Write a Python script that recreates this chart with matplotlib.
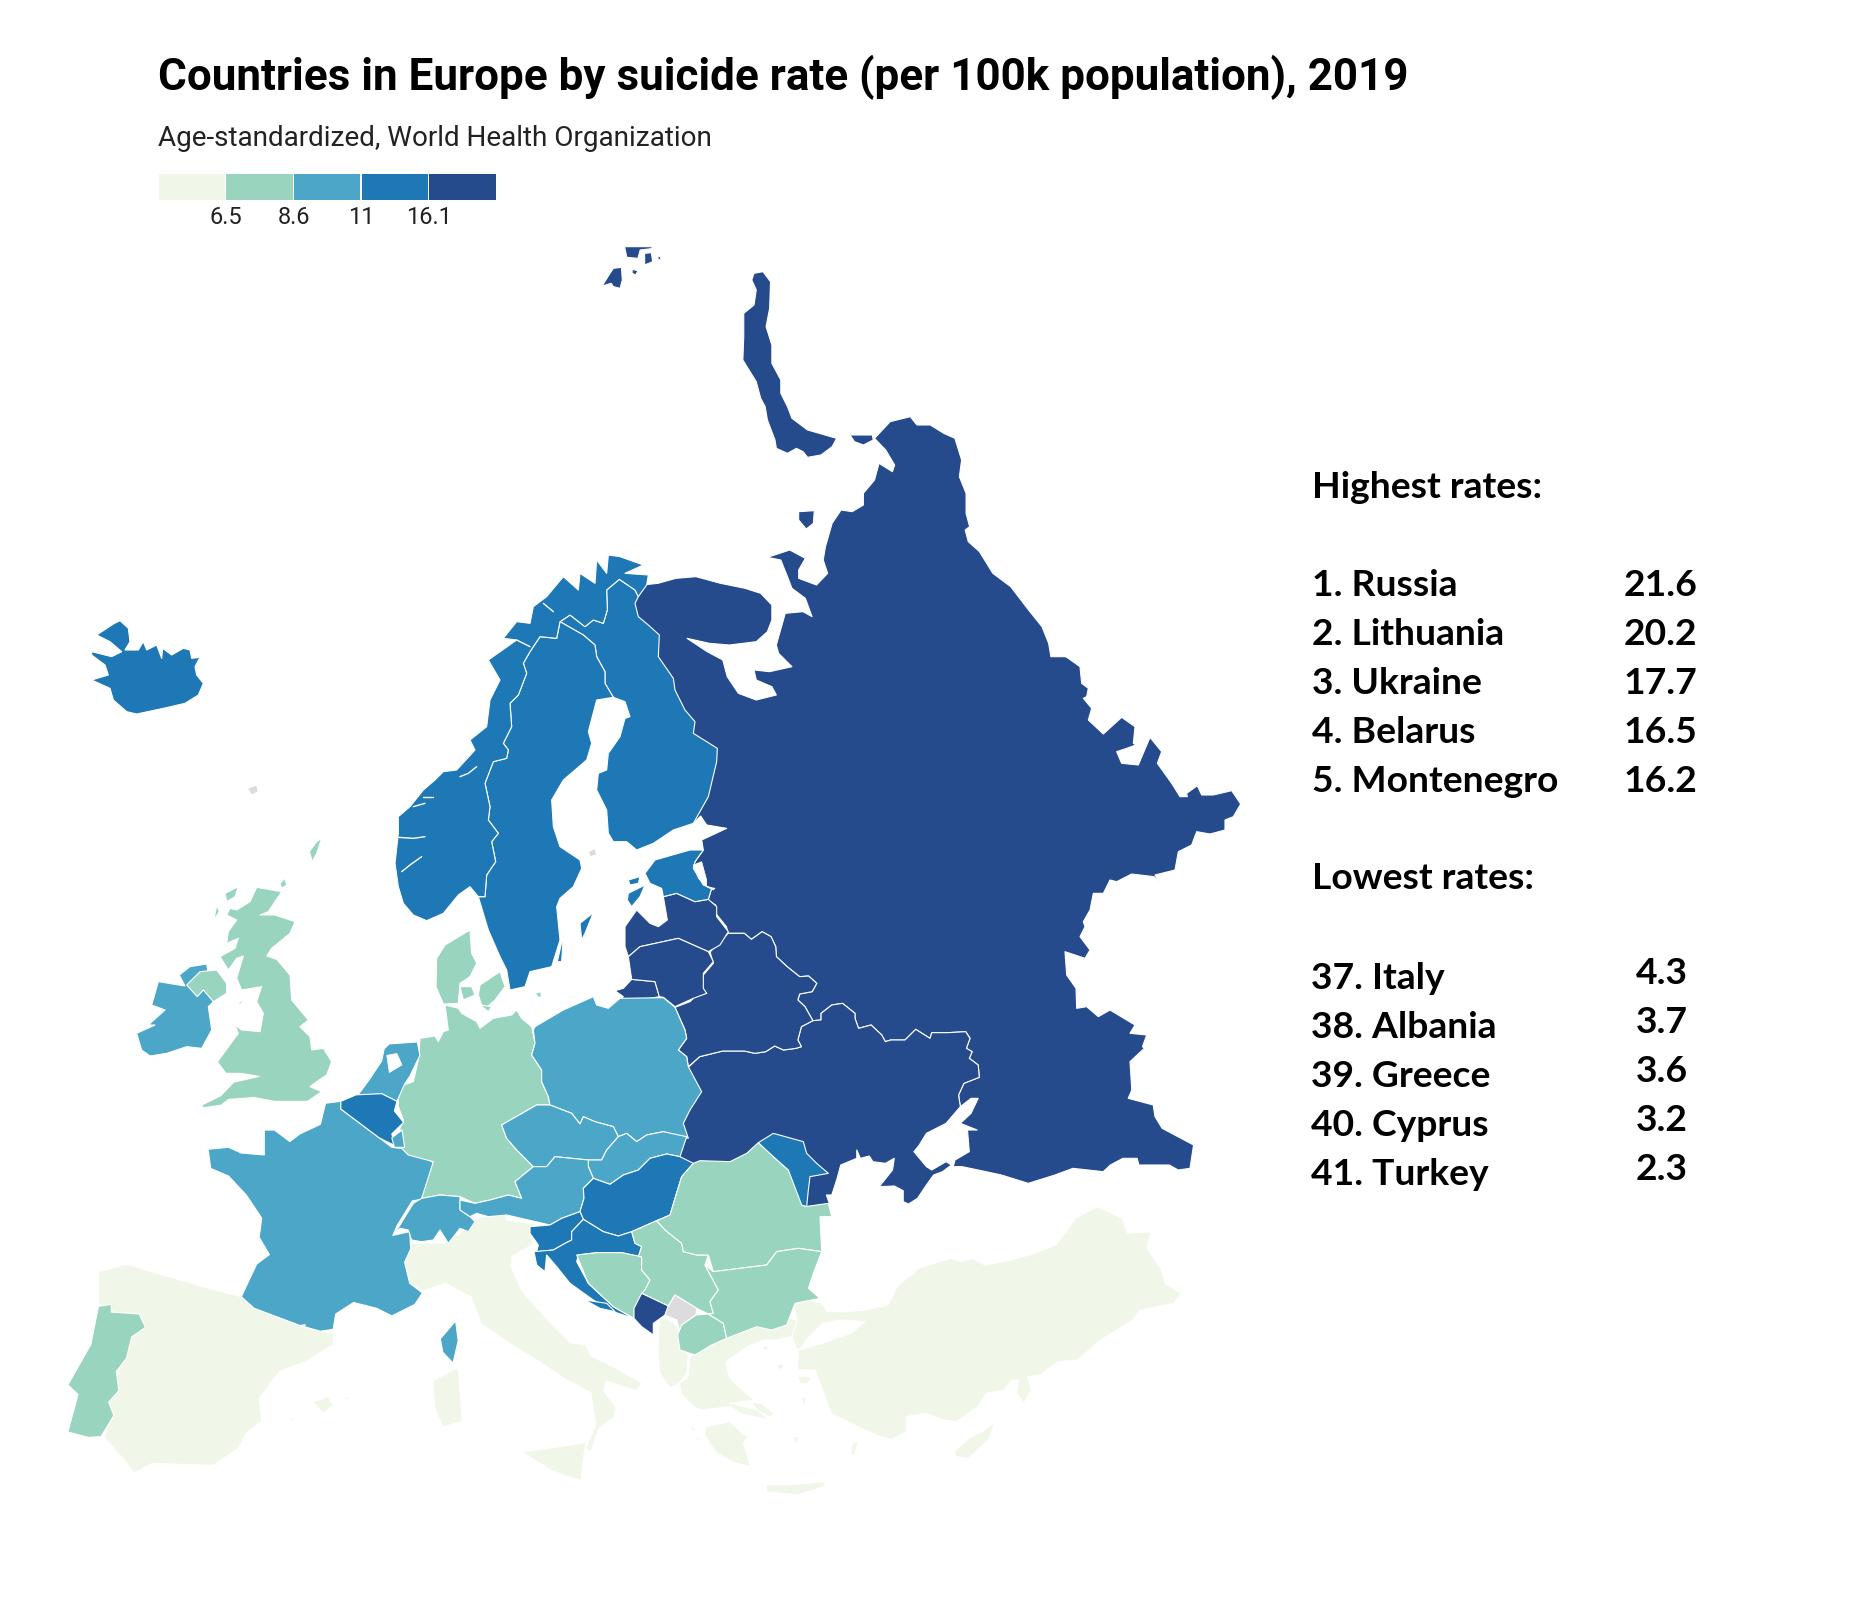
import numpy as np
import matplotlib
matplotlib.use("Agg")
import matplotlib.pyplot as plt
from matplotlib.patches import Polygon, Rectangle


def crop(pts, x0, y0, sx=3.0, sy=3.0):
    # outlines were traced on enlarged crops, this puts them back in map units
    return [(x0 + x / sx, y0 + y / sy) for x, y in pts]

def north(pts): return crop(pts, 330, 540)
def central(pts): return crop(pts, 380, 950)
def west(pts): return crop(pts, 50, 950, 1.96, 2.61)
def arctic(pts): return crop(pts, 600, 230, 2.24, 3.0)
def south(pts): return crop(pts, 680, 850, 2.8, 3.0)
def anatolia(pts): return crop(pts, 640, 1180, 2.8, 3.0)
def isles(pts): return crop(pts, 60, 600)
def urals(pts): return crop(pts, 950, 620)


TITLE = "Countries in Europe by suicide rate (per 100k population), 2019"
SUBTITLE = "Age-standardized, World Health Organization"
BINS = [6.5, 8.6, 11, 16.1]
BIN_LABELS = ["6.5", "8.6", "11", "16.1"]
COLORS = ["#f0f7e8", "#99d4bf", "#4ba6c8", "#1e78b5", "#264b8c"]
NO_DATA = "#dcdbde"

HIGHEST = ["1. Russia", "2. Lithuania", "3. Ukraine", "4. Belarus", "5. Montenegro"]
HIGHEST_VALUES = ["21.6", "20.2", "17.7", "16.5", "16.2"]
LOWEST = ["37. Italy", "38. Albania", "39. Greece", "40. Cyprus", "41. Turkey"]
LOWEST_VALUES = ["4.3", "3.7", "3.6", "3.2", "2.3"]

# listed ones are from the side table, the others are estimates inside their colour class
RATES = {
    "Russia": 21.6, "Lithuania": 20.2, "Ukraine": 17.7, "Belarus": 16.5, "Montenegro": 16.2,
    "Latvia": 16.3, "Estonia": 12.0, "Finland": 13.4, "Sweden": 12.4, "Norway": 12.2,
    "Iceland": 11.5, "Belgium": 13.9, "Hungary": 13.6, "Moldova": 12.2, "Slovenia": 12.1,
    "Croatia": 11.5, "Austria": 10.4, "France": 9.7, "Poland": 10.5, "Czechia": 10.5,
    "Slovakia": 9.5, "Netherlands": 9.3, "Switzerland": 9.8, "Ireland": 8.9, "Luxembourg": 9.0,
    "Germany": 8.3, "UK": 6.9, "Denmark": 7.8, "Portugal": 8.0, "Romania": 8.0,
    "Bulgaria": 7.9, "Serbia": 8.0, "Bosnia": 6.9, "Macedonia": 6.6, "Spain": 5.3,
    "Italy": 4.3, "Albania": 3.7, "Greece": 3.6, "Cyprus": 3.2, "Turkey": 2.3,
    "Kosovo": None, "Faroe": None, "Man": None, "Aland": None, "Andorra": None,
}

# borders shared by two outlines
RU_UA = south([(785,770),(780,735),(795,700),(838,682),(835,645),(810,625),(818,605),(802,595),(812,565),(800,545),(750,548),(705,548),(700,565),(660,538),(630,570),(590,570),(575,575),(565,555),(535,525),(500,535),(490,505),(490,490),(455,460),(425,465),(395,490),(395,510),(372,512)])
UA_BY = south([(372,512),(340,530),(330,570),(340,590),(325,595),(290,600),(265,588),(240,605),(210,610),(180,603),(120,603),(55,620),(25,650)])
RU_BY = south([(372,512),(350,470),(330,450),(335,432),(370,425),(383,400),(360,378),(335,380),(300,350),(270,320),(268,290),(255,260),(230,245),(200,268),(180,250),(135,250)])
RU_LV = south([(135,250),(130,230),(100,190),(100,165),(80,152)])
LT_BY = south([(135,250),(85,305)]) + central([(990,5),(1000,40),(970,75),(965,120),(980,130),(965,120),(930,155),(885,172)])
PL_EAST = central([(885,172),(915,240),(920,265),(895,300),(920,320),(925,350)])

RU_KOLA = arctic([(85,1100),(95,1065),(130,1060),(170,1045),(215,1040),(270,1060),(325,1075),(360,1090),(385,1125),(385,1170),(375,1205),(350,1235),(290,1245),(245,1240),(195,1225),(240,1265),(275,1290),(285,1340),(310,1390),(350,1410),(395,1395),(385,1370),(350,1350),(345,1320),(380,1325),(430,1310),(400,1270),(395,1245),(415,1150),(455,1145),(475,1160),(460,1105),(430,1075),(420,1040),(405,990),(375,982),(425,960),(460,985),(445,1020),(445,1045),(485,1065),(510,1030),(500,990),(505,950),(520,880),(540,840),(565,845),(590,825),(590,790),(615,750),(625,700),(655,725),(660,705),(640,660),(615,625),(650,575),(695,560),(710,585),(740,585),(770,610),(795,625),(810,690),(805,740),(820,790),(820,850),(828,890),(818,900),(825,935),(850,965),(880,1030),(920,1070),(960,1140),(990,1190),(1005,1240),(1010,1280),(1045,1280)])
RU_URALS = urals([(345,108),(390,140),(395,190),(415,205),(410,230),(400,235),(425,265),(415,300),(460,342),(515,292),(555,320),(550,370),(558,375),(530,385),(500,395),(515,430),(565,435),(600,352),(635,395),(622,430),(665,490),(690,530),(712,530),(710,520),(742,497),(755,525),(790,525),(845,512),(872,552),(850,590),(825,600),(825,630),(780,642),(740,635),(725,675),(685,695),(675,750),(615,765),(630,790),(612,770),(545,762),(500,785),(480,780),(460,820),(430,820),(420,870),(400,905),(405,920),(390,950),(420,990),(405,1015),(345,995),(350,1065),(378,1105),(380,1165),(410,1160),(445,1190),(480,1170),(555,1215),(540,1240),(590,1245)])
RU_CAUCASUS = south([(1295,590),(1300,595),(1260,635),(1265,720),(1255,745),(1325,765),(1330,800),(1350,835),(1438,885),(1428,955),(1395,960),(1370,945),(1285,945),(1280,925),(1240,925),(1205,945),(1185,965),(1100,955),(1050,975),(975,1000),(900,975),(835,960),(790,950),(765,950),(770,930),(810,905),(805,840),(832,840),(785,820),(815,790),(835,745),(815,745)])
RU_GULF = north([(1135,1078),(1145,1045),(1120,1035),(1090,985),(1095,965),(1120,930),(1115,900),(1190,865),(1130,855),(1112,828),(1090,850),(1000,700),(900,300),(900,190)])
RUSSIA = RU_KOLA + RU_URALS + RU_CAUCASUS + RU_UA + RU_BY[1:] + RU_LV[1:] + RU_GULF
KALININGRAD = north([(855,1352),(880,1345),(905,1318),(975,1325),(988,1370),(850,1395),(880,1370)])
NOVAYA_ZEMLYA = arctic([(345,130),(365,125),(382,155),(380,235),(372,290),(385,345),(385,400),(405,450),(405,490),(420,530),(430,565),(465,600),(530,625),(520,650),(495,675),(465,682),(455,665),(440,655),(420,670),(395,655),(392,630),(375,570),(370,530),(360,505),(350,455),(320,390),(322,320),(322,250),(345,225),(350,180),(340,150)])
VAYGACH = arctic([(560,615),(610,615),(612,630),(590,645),(570,635)])
KOLGUYEV = arctic([(445,845),(480,842),(478,880),(462,897),(445,870)])
FRANZ_JOSEF = [arctic(p) for p in [
    [(55,50),(118,50),(115,56),(90,60),(85,85),(60,82)],
    [(100,70),(115,68),(118,95),(100,105)],
    [(130,75),(138,85),(130,92)],
    [(72,118),(85,122),(80,135),(72,130)],
    [(30,115),(48,112),(50,150),(45,175),(30,170),(25,160),(5,168),(20,135)],
]]
PEIPUS = north([(1090,975),(1115,965),(1130,1020),(1130,1040),(1155,1045),(1150,1050),(1130,1040),(1105,1015)])

UKRAINE = RU_UA + UA_BY[1:] + central([(900,400),(880,580),(880,680),(1000,720)]) + south([(220,950),(345,1000),(345,1070),(390,1078),(418,1060),(410,1035),(425,1035),(440,985),(450,945),(495,925),(495,900),(505,925),(530,918),(540,935),(575,940),(600,925),(595,960),(558,1010),(600,1008),(625,1022),(625,1055),(640,1062),(665,1045),(690,1005),(710,975),(735,965),(760,945),(745,935),(705,960),(690,950),(655,905),(670,885),(690,850),(745,820)])
BELARUS = RU_BY + LT_BY[1:] + PL_EAST[1:] + UA_BY[::-1][1:]
LITHUANIA = north([(905,1318),(895,1250),(930,1220),(1045,1195),(1135,1235),(1150,1265),(1120,1300),(1120,1345),(1130,1360),(1090,1375),(1035,1400),(1000,1372),(988,1370),(975,1325)])
LATVIA = north([(885,1220),(885,1160),(920,1110),(960,1150),(985,1160),(1012,1140),(1000,1070),(1040,1060),(1095,1085),(1135,1078),(1160,1100),(1160,1130),(1195,1175),(1170,1215),(1135,1235),(1045,1195),(930,1220),(895,1250)])
ESTONIA = north([(945,1000),(975,960),(1080,930),(1120,930),(1095,965),(1090,985),(1120,1035),(1145,1045),(1135,1078),(1095,1085),(1040,1060),(1000,1070),(995,1045),(960,1030)])
HIIUMAA = north([(895,1020),(930,1010),(925,1030),(900,1035)])
SAAREMAA = north([(895,1060),(945,1035),(930,1070),(905,1100),(892,1080)])

FI_SE = north([(690,245),(760,285),(795,315),(800,350),(825,395),(825,430),(850,472)])
NO_SE = north([(465,1070),(470,1005),(497,965),(485,905),(505,880),(475,840),(480,800),(465,730),(490,665),(530,655),(535,630),(520,610),(545,560),(540,490),(565,465),(590,400),(580,370),(600,335),(630,290),(680,295),(690,245)])
FI_NO = north([(690,245),(720,225),(765,260),(790,240),(820,250),(832,210),(830,150),(868,118),(915,150),(925,170)])
FINLAND = FI_NO + north([(915,190),(925,230),(955,255),(988,285),(985,350),(1030,415),(1035,450),(1065,510),(1095,545),(1090,580),(1162,625),(1160,665),(1135,770),(1090,850),(1030,870),(970,910),(920,930),(890,905),(850,905),(835,880),(830,810),(800,750),(805,700),(830,690),(835,640),(870,590),(885,535),(900,530),(885,485)]) + FI_SE[::-1]
SWEDEN = FI_SE + north([(800,480),(775,575),(785,610),(770,660),(700,720),(665,780),(670,860),(690,920),(750,960),(755,985),(730,1040),(690,1075),(680,1100),(690,1200),(665,1280),(600,1295),(585,1340),(540,1350),(530,1290),(510,1250),(475,1170),(445,1070)]) + NO_SE
GOTLAND = north([(750,1150),(790,1118),(765,1180),(755,1200)])
OLAND = north([(682,1265),(700,1185),(695,1265)])
NORWAY = north([(950,135),(955,105),(885,100),(940,75),(870,50),(835,45),(830,100),(800,60),(795,130),(750,100),(745,150),(700,110),(650,170),(610,200),(600,250),(560,245),(520,295),(560,300),(475,360),(510,420),(480,480),(470,560),(420,600),(435,630),(380,690),(340,695),(315,720),(280,750),(240,800),(205,830),(205,880),(195,970),(205,1040),(220,1090),(250,1125),(290,1142),(340,1120),(385,1065),(420,1040),(445,1070)]) + NO_SE + FI_NO[1:]
FJORDS = [north(p) for p in [
    [(205,892),(250,895),(285,890)],
    [(215,995),(240,975),(275,950)],
    [(390,710),(415,700),(440,680)],
    [(250,800),(285,790)],
    [(280,770),(310,770)],
    [(640,190),(670,215)],
    [(560,300),(600,320)],
]]

ICELAND = isles([(95,240),(145,225),(135,195),(95,165),(95,155),(155,170),(185,155),(150,125),(110,105),(160,72),(180,62),(205,85),(210,125),(195,150),(235,150),(250,125),(260,150),(290,135),(305,175),(308,145),(335,165),(370,145),(390,150),(395,175),(420,172),(405,200),(410,225),(430,250),(415,285),(375,310),(310,325),(230,342),(200,335),(160,300),(150,265)])
FAROE = isles([(562,565),(590,555),(595,575),(575,585)])
BRITAIN = isles([(590,862),(665,875),(625,935),(600,945),(645,945),(705,965),(690,1000),(635,1045),(620,1068),(650,1078),(690,1125),(695,1200),(745,1260),(720,1280),(750,1310),(755,1350),(790,1345),(815,1385),(800,1425),(770,1445),(750,1460),(785,1475)]) + west([(505,395),(440,395),(400,385),(350,390),(335,405),(300,412),(297,405),(335,380),(360,345),(410,330),(375,322),(345,322),(328,292)]) + isles([(535,1300),(525,1275),(545,1290),(600,1295),(610,1240),(590,1205),(605,1160),(545,1170),(530,1135),(550,1068),(530,1075),(505,1110),(480,1070),(525,1045),(535,1015),(500,1030),(505,995),(530,960),(500,945),(510,925),(530,930),(570,905)])
LEWIS = isles([(495,880),(535,860),(525,890),(500,905)])
UIST = isles([(470,915),(478,935),(462,960)])
SHETLAND = isles([(748,755),(770,725),(785,715),(770,760),(757,785)])
ORKNEY = isles([(660,850),(675,835),(680,855),(665,865)])
ISLE_OF_MAN = isles([(530,1215),(550,1195),(545,1212)])
N_IRELAND = isles([(380,1155),(420,1115),(470,1110),(500,1150),(500,1180),(460,1205),(430,1170),(412,1190)])
IRELAND = isles([(295,1145),(375,1158),(358,1125),(390,1100),(440,1092),(450,1150),(460,1205),(445,1220),(455,1290),(425,1345),(380,1340),(320,1360),(270,1368),(245,1350),(230,1300),(285,1275),(265,1275),(315,1230),(275,1215)])

NETHERLANDS = west([(665,245),(720,240),(725,275),(705,330),(695,350),(680,395),(650,375),(615,380),(600,385),(625,340),(650,290),(655,258)])
IJSSELMEER = west([(660,275),(680,270),(690,300),(665,320)])
BELGIUM = west([(570,395),(600,378),(650,375),(680,395),(675,420),(693,450),(670,480),(675,510),(645,490),(625,470),(595,440),(570,415)])
LUXEMBOURG = west([(670,490),(690,470),(695,515),(675,515)])
GERMANY = central([(120,265),(165,258),(175,275),(190,245),(205,240),(195,165),(235,175),(245,190),(290,215),(300,235),(340,205),(395,195),(410,180),(425,205),(455,230),(465,280),(455,315),(485,360),(485,395),(505,440),(510,465),(470,465),(365,525),(380,565),(410,600),(460,650),(405,695),(425,745),(385,735),(330,750),(285,760),(240,740),(180,735),(125,745),(160,635),(85,615),(60,590),(60,535),(70,510),(55,470),(55,410),(100,395),(115,330)])
JUTLAND = north([(420,1170),(425,1240),(440,1270),(420,1310),(390,1330),(385,1390),(340,1392),(318,1340),(320,1255),(345,1215)])
FUNEN = north([(390,1340),(425,1340),(435,1365),(400,1380)])
ZEALAND = north([(450,1335),(510,1295),(525,1340),(495,1380),(460,1410),(445,1365)])
LOLLAND = north([(450,1395),(485,1400),(475,1415)])
BORNHOLM = north([(615,1360),(632,1355),(635,1370),(625,1372)])

POLAND = central([(465,230),(550,180),(640,140),(650,165),(685,175),(720,145),(850,143),(885,172),(915,240),(920,265),(895,300),(920,320),(925,350),(965,425),(930,480),(910,520),(925,565),(850,545),(800,555),(770,575),(740,550),(715,560),(700,530),(645,515),(610,500),(600,522),(575,490),(510,465),(505,440),(485,395),(485,360),(455,315),(465,280),(460,240)])
CZECHIA = central([(365,525),(470,465),(510,465),(575,490),(600,522),(610,500),(645,515),(700,530),(715,560),(680,600),(665,630),(625,630),(525,620),(500,650),(465,655),(410,600),(380,565)])
SLOVAKIA = central([(715,560),(740,550),(770,575),(800,555),(850,545),(920,560),(900,620),(860,612),(810,625),(775,660),(730,675),(690,703),(640,685),(625,650),(625,630),(665,630),(680,600)])
AUSTRIA = central([(525,620),(625,630),(625,650),(640,685),(610,715),(612,745),(600,785),(545,805),(510,825),(380,795),(325,800),(290,790),(270,800),(240,780),(240,750),(285,760),(330,750),(385,735),(425,745),(405,695),(460,650),(500,650)])
HUNGARY = central([(640,685),(690,703),(730,675),(775,660),(810,625),(860,612),(900,620),(940,640),(905,680),(885,745),(870,795),(830,812),(755,845),(715,858),(670,845),(610,808),(600,785),(612,745),(610,715)])
SLOVENIA = central([(450,830),(510,825),(545,805),(600,785),(610,808),(575,845),(575,870),(555,880),(520,900),(470,905),(475,885),(450,850)])
CROATIA = central([(610,808),(670,845),(715,858),(755,845),(765,880),(785,890),(775,920),(725,908),(650,908),(595,915),(590,935),(625,1000),(700,1070),(760,1105),(700,1085),(640,1050),(570,1000),(530,950),(500,915),(495,965),(470,945),(462,905),(520,900),(555,880),(575,870),(575,845)])
HVAR = central([(615,1050),(680,1060),(705,1085),(660,1075)])
BOSNIA = central([(590,915),(650,908),(725,908),(785,920),(785,960),(810,990),(795,1020),(795,1045),(765,1075),(762,1105),(700,1070),(625,1000)])
MONTENEGRO = central([(785,1030),(865,1068),(855,1095),(820,1120),(820,1155),(785,1130),(762,1105),(762,1075)])
KOSOVO = central([(885,1035),(950,1075),(948,1095),(905,1125),(900,1145),(890,1110),(855,1095),(865,1068)])
MACEDONIA = central([(905,1125),(948,1095),(985,1092),(1030,1120),(1040,1165),(995,1185),(945,1215),(900,1200),(893,1155)])
SERBIA = central([(755,845),(830,812),(855,840),(905,880),(910,905),(950,915),(985,915),(975,945),(1015,1020),(990,1055),(1000,1090),(985,1092),(950,1075),(885,1035),(865,1068),(785,1030),(795,1020),(810,990),(785,960),(785,920),(775,920),(785,890),(765,880)])
ROMANIA = central([(830,812),(870,795),(885,745),(905,680),(940,640),(960,632),(1050,635),(1100,610),(1135,578),(1180,620),(1225,660),(1260,730),(1275,770),(1345,760),(1355,800),(1320,800),(1325,905),(1255,895),(1190,905),(1160,945),(1000,965),(985,915),(950,915),(910,905),(905,880),(855,840)])
BULGARIA = central([(1000,965),(1160,945),(1190,905),(1255,895),(1325,905),(1300,970),(1285,1015),(1320,1045),(1245,1060),(1220,1125),(1175,1140),(1130,1130),(1040,1165),(1030,1120),(985,1092),(1000,1090),(990,1055),(1015,1020),(975,945)])
MOLDOVA = central([(1135,578),(1180,550),(1270,575),(1280,610),(1310,640),(1345,670),(1290,680),(1285,720),(1280,770),(1265,765),(1225,660),(1180,620)])
SWITZERLAND = central([(40,855),(60,825),(100,760),(125,745),(180,735),(240,740),(240,780),(270,800),(285,815),(265,845),(240,835),(205,880),(180,840),(160,870),(125,875),(95,870),(85,840),(60,835)])

FRANCE = west([(310,520),(350,515),(375,530),(420,535),(420,470),(440,470),(470,500),(490,480),(530,455),(540,400),(570,395),(570,415),(595,440),(625,470),(645,490),(670,515),(700,520),(752,555),(730,650),(710,655),(680,720),(672,745),(705,735),(707,780),(695,815),(705,870),(730,895),(715,925),(670,955),(640,935),(595,920),(560,950),(555,990),(530,995),(490,980),(460,965),(400,935),(375,905),(405,820),(430,795),(410,750),(415,700),(385,640),(350,590),(315,570)])
CORSICA = west([(795,968),(800,1020),(790,1078),(770,1050),(765,1015)])
SPAIN = west([(95,840),(150,820),(200,840),(290,875),(375,905),(400,935),(460,965),(490,980),(530,995),(555,1000),(555,1030),(500,1075),(450,1100),(410,1170),(415,1230),(385,1260),(370,1300),(320,1345),(200,1340),(165,1365),(145,1330),(105,1270),(125,1215),(115,1175),(135,1100),(160,1000),(185,985),(175,950),(120,945),(95,925)])
PORTUGAL = west([(95,930),(120,925),(120,945),(175,950),(187,985),(160,1010),(150,1065),(130,1100),(135,1150),(115,1180),(125,1215),(100,1270),(75,1272),(35,1258),(55,1160),(35,1135),(80,1030)])
MALLORCA = west([(515,1180),(545,1165),(555,1190),(535,1208)])
MENORCA = west([(575,1165),(590,1170),(580,1175)])
IBIZA = west([(470,1220),(480,1225),(470,1230)])
ANDORRA = west([(490,980),(500,978),(500,986)])
ITALY = west([(705,765),(775,765),(780,740),(800,745),(815,720),(835,700),(890,685),(895,705),(950,715),(945,770),(905,800),(905,830),(925,890),(975,965),(1020,1025),(1050,1030),(1060,1060),(1100,1085),(1160,1130),(1150,1150),(1090,1125),(1085,1150),(1110,1195),(1105,1220),(1075,1250),(1060,1310),(1050,1300),(1070,1240),(1060,1155),(1010,1120),(960,1075),(905,1030),(845,975),(825,905),(775,870),(730,890),(705,870),(695,815),(707,780)])
SICILY = west([(925,1310),(1005,1295),(1050,1285),(1040,1385),(985,1360)])
SARDINIA = west([(770,1110),(800,1090),(808,1230),(770,1245),(755,1200),(750,1125)])
ALAND = north([(775,935),(795,925),(800,945),(780,950)])

ALBANIA = anatolia([(55,415),(85,420),(105,440),(110,490),(135,525),(130,580),(110,610),(85,625),(55,580),(50,510)])
GREECE = anatolia([(110,610),(135,590),(140,530),(185,505),(235,470),(320,440),(420,415),(440,420),(425,470),(380,480),(345,480),(300,500),(240,545),(250,590),(265,610),(320,660),(250,670),(330,690),(360,720),(280,700),(255,680),(170,690),(150,680),(115,640)])
PELOPONNESE = anatolia([(185,740),(250,725),(300,770),(290,790),(310,860),(270,850),(215,820),(180,765)])
CRETE = anatolia([(353,915),(420,915),(520,905),(515,920),(440,945),(355,935)])
EVIA = anatolia([(310,665),(340,670),(375,700),(365,712),(330,692)])
LESBOS = anatolia([(440,590),(480,590),(470,610),(450,610)])
LEMNOS = anatolia([(385,555),(400,552),(402,566),(388,568)])
THASOS = anatolia([(345,498),(358,498),(356,510),(346,510)])
CHIOS = anatolia([(450,650),(465,655),(460,680)])
NAXOS = anatolia([(430,770),(445,770),(442,790),(432,788)])
RHODES = anatolia([(595,790),(612,785),(600,825),(590,825)])
CORFU = anatolia([(135,735),(155,745),(150,755)])
KEFALONIA = anatolia([(155,770),(170,778),(160,782)])
TURKEY = anatolia([(440,420),(430,375),(470,360),(510,370),(525,395),(575,395),(630,390),(695,375),(720,320),(780,265),(870,235),(900,245),(930,235),(965,255),(1040,240),(1090,225),(1165,195),(1220,115),(1280,80),(1350,115),(1365,160),(1430,155),(1420,205),(1460,270),(1470,310),(1515,340),(1495,370),(1400,390),(1380,420),(1290,480),(1225,540),(1170,545),(1120,585),(1085,590),(1095,630),(1075,670),(1055,640),(1060,600),(1040,600),(1020,630),(970,640),(945,680),(885,725),(850,720),(800,700),(745,710),(745,755),(705,778),(660,765),(610,740),(535,700),(515,640),(490,570),(440,570),(445,510),(510,490),(590,460),(630,425),(560,420),(510,430),(465,480),(450,505),(440,510),(425,470)])
CYPRUS = anatolia([(880,815),(920,775),(965,750),(995,725),(975,780),(920,835),(885,830)])

# painter's order: a later outline sets the border it shares with an earlier one
COUNTRIES = [
    ("Turkey", [TURKEY]), ("Cyprus", [CYPRUS]),
    ("Greece", [GREECE, PELOPONNESE, CRETE, EVIA, LESBOS, LEMNOS, THASOS, CHIOS, NAXOS, RHODES, CORFU, KEFALONIA]),
    ("Albania", [ALBANIA]), ("Italy", [ITALY, SICILY, SARDINIA]),
    ("Spain", [SPAIN, MALLORCA, MENORCA, IBIZA]), ("Portugal", [PORTUGAL]),
    ("Russia", [RUSSIA, KALININGRAD, NOVAYA_ZEMLYA, VAYGACH, KOLGUYEV] + FRANZ_JOSEF),
    ("Ukraine", [UKRAINE]), ("Belarus", [BELARUS]), ("Latvia", [LATVIA]),
    ("Lithuania", [LITHUANIA]), ("Estonia", [ESTONIA, HIIUMAA, SAAREMAA]),
    ("Finland", [FINLAND]), ("Sweden", [SWEDEN, GOTLAND, OLAND]), ("Norway", [NORWAY]),
    ("Iceland", [ICELAND]), ("Faroe", [FAROE]), ("Aland", [ALAND]), ("Man", [ISLE_OF_MAN]),
    ("UK", [BRITAIN, LEWIS, UIST, SHETLAND, ORKNEY]), ("Ireland", [IRELAND]), ("UK", [N_IRELAND]),
    ("France", [FRANCE, CORSICA]), ("Andorra", [ANDORRA]), ("Germany", [GERMANY]),
    ("Denmark", [JUTLAND, FUNEN, ZEALAND, LOLLAND, BORNHOLM]),
    ("Netherlands", [NETHERLANDS]), ("Belgium", [BELGIUM]), ("Luxembourg", [LUXEMBOURG]),
    ("Switzerland", [SWITZERLAND]), ("Poland", [POLAND]), ("Czechia", [CZECHIA]),
    ("Slovakia", [SLOVAKIA]), ("Austria", [AUSTRIA]), ("Hungary", [HUNGARY]),
    ("Slovenia", [SLOVENIA]), ("Croatia", [CROATIA, HVAR]), ("Bosnia", [BOSNIA]),
    ("Serbia", [SERBIA]), ("Montenegro", [MONTENEGRO]), ("Kosovo", [KOSOVO]),
    ("Macedonia", [MACEDONIA]), ("Romania", [ROMANIA]), ("Bulgaria", [BULGARIA]),
    ("Moldova", [MOLDOVA]),
]


def rate_color(rate):
    if rate is None:
        return NO_DATA
    return COLORS[int(np.digitize(rate, BINS))]


fig = plt.figure(figsize=(18.5, 16.02), dpi=100)
ax = fig.add_axes([0, 0, 1, 1])
ax.set_xlim(0, 1850)
ax.set_ylim(1602, 0)
ax.axis("off")

for name, parts in COUNTRIES:
    for part in parts:
        ax.add_patch(Polygon(part, closed=True, facecolor=rate_color(RATES[name]),
                             edgecolor="white", linewidth=0.8, joinstyle="round"))
for hole in [PEIPUS, IJSSELMEER]:
    ax.add_patch(Polygon(hole, closed=True, facecolor="white", edgecolor="white", linewidth=0.5))
for fjord in FJORDS:
    xs, ys = zip(*fjord)
    ax.plot(xs, ys, color="white", lw=1.0, solid_capstyle="round")

ax.text(158, 90, TITLE, family="Roboto", fontweight="bold", fontsize=31.65, color="black", va="baseline")
ax.text(158, 146, SUBTITLE, family="Roboto", fontsize=20.1, color="#222222", va="baseline")

# legend strip with class limits under the joins
seg_w = 67.7
for i, c in enumerate(COLORS):
    ax.add_patch(Rectangle((158.5 + i * seg_w, 174), seg_w - 1.2, 26, facecolor=c, edgecolor="none"))
for i, lab in enumerate(BIN_LABELS):
    ax.text(158.5 + (i + 1) * seg_w, 218, lab, family="Roboto", fontsize=17, color="#222222",
            ha="center", va="center")

side = dict(family="Lato", fontweight="bold", fontsize=26.8, color="black", va="baseline")
ax.text(1312, 498, "Highest rates:", **side)
ax.text(1312, 889, "Lowest rates:", **side)
for i, (lab, val) in enumerate(zip(HIGHEST, HIGHEST_VALUES)):
    y = 596 + i * 49
    ax.text(1312, y, lab, **side)
    ax.text(1624, y, val, **side)
for i, (lab, val) in enumerate(zip(LOWEST, LOWEST_VALUES)):
    ax.text(1311, 989 + i * 49, lab, **side)
    ax.text(1636, 984 + i * 49, val, **side)

fig.savefig("out.png", dpi=100, facecolor="white")
